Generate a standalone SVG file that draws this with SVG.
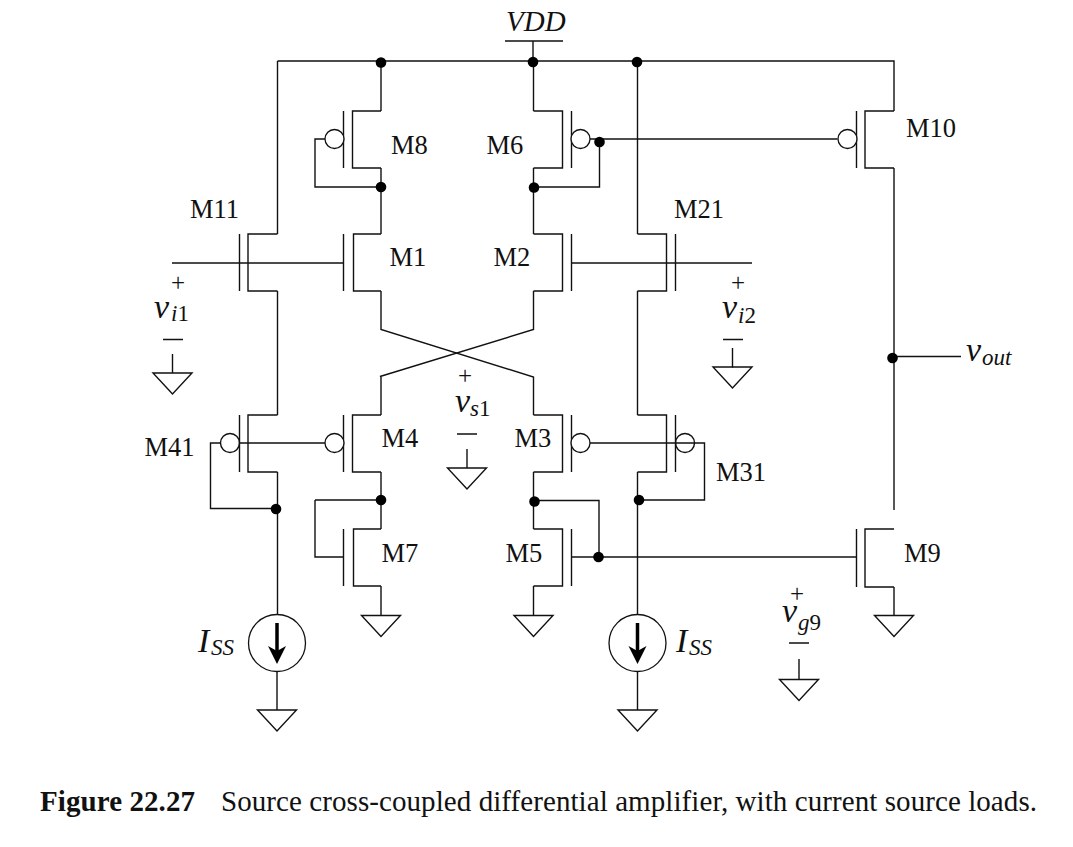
<svg xmlns="http://www.w3.org/2000/svg" width="1073" height="847" viewBox="0 0 1073 847">
<defs>
<style>
.w{fill:none;stroke:#111;stroke-width:1.4}
.d{fill:#000}
text{font-family:"Liberation Serif","Times New Roman",serif;fill:#111}
.l{font-size:26.5px}
.v{font-size:34px;font-style:italic}
.s{font-size:23px;font-style:italic}
.n{font-size:23px}
.p{font-size:25px}
.b{fill:#fff;stroke:#111;stroke-width:1.3}
</style>
<path id="gnd" class="w" d="M-19.5 0H19.5L0 21Z"/>
</defs>
<rect width="1073" height="847" fill="#fff"/>
<g id="connectors" class="w">
<path d="M505 41H563M533 41V61M277.5 61H894V111"/>
<path d="M277.5 61V234M381 61V111M533.5 61V111M637.5 61V234"/>
<path d="M381 168V234M533.5 168V234"/>
<path d="M325 139H315V187H381M599.5 142V187H534"/>
<path d="M590 139H837.5"/>
<path d="M172 263H343.5M571.5 263H752"/>
<path d="M381 291V329.5L533.5 377V415M533.5 291V329.5L380 376.5H381V415"/>
<path d="M277.5 291V415M637.5 291V415M894 168V510"/>
<path d="M239.5 443H325M590 443H704.5V500H637.5M220.500 443H210.500V508.500H276"/>
<path d="M277.500 472V614.500M277 671.500V710M637.500 472V614.500M637.500 671.500V710"/>
<path d="M381 472V529M533.500 472V529M315 500H381M534 500.500H599V557M315 500V557H343.500"/>
<path d="M571.500 557H856.500"/>
<path d="M381 586V615.500M533.500 586V615.500M894 587V615.500"/>
<path d="M893 356.500H961"/>
<path d="M172.500 354V373M732.500 348V367.500M467 449V468M799 659V679.500"/>
<path d="M163 339.500H183M723 339.500H743M457 434H477M789 643H809"/>
</g>
<g id="junctions">
<circle class="d" cx="381" cy="62.500" r="5.300"/><circle class="d" cx="533" cy="62" r="5.300"/><circle class="d" cx="637" cy="62" r="5.300"/>
<circle class="d" cx="381" cy="187" r="5.300"/><circle class="d" cx="534" cy="187.500" r="5.300"/><circle class="d" cx="599.500" cy="142" r="5.300"/>
<circle class="d" cx="892.500" cy="358" r="5.300"/><circle class="d" cx="276" cy="509" r="5.300"/><circle class="d" cx="381" cy="500" r="5.300"/>
<circle class="d" cx="534.500" cy="501.500" r="5.300"/><circle class="d" cx="639" cy="500" r="5.300"/><circle class="d" cx="598.500" cy="557" r="5.300"/>
</g>
<g id="M8"><path class="w" d="M381 111H352.500V168H381M343.500 111V168"/><circle class="b" cx="334.500" cy="139" r="9.500"/><text class="l" x="391" y="153.500">M8</text></g>
<g id="M6"><path class="w" d="M533.500 111H562.500V168H533.500M571.500 111V168"/><circle class="b" cx="580.500" cy="139" r="9.500"/><text class="l" x="486.500" y="153.500">M6</text></g>
<g id="M10"><path class="w" d="M894 111H865V168H894M856.500 111V168"/><circle class="b" cx="847.500" cy="139" r="9.500"/><text class="l" x="906" y="137">M10</text></g>
<g id="M1"><path class="w" d="M381 234H353.500V291H381M343.500 234V291"/><text class="l" x="389.500" y="266">M1</text></g>
<g id="M2"><path class="w" d="M533.500 234H562.500V291H533.500M571.500 234V291"/><text class="l" x="493.500" y="266">M2</text></g>
<g id="M11"><path class="w" d="M277.500 234H248V291H277.500M239.500 234V291"/><text class="l" x="190" y="218">M11</text></g>
<g id="M21"><path class="w" d="M637.500 234H666.500V291H637.500M675.500 234V291"/><text class="l" x="674" y="218">M21</text></g>
<g id="M41"><path class="w" d="M277.500 415H248V472H277.500M239.500 415V472"/><circle cx="230" cy="443" r="9.500" class="w"/><text class="l" x="144.500" y="456">M41</text></g>
<g id="M4"><path class="w" d="M381 415H352.500V472H381M343.500 415V472"/><circle class="b" cx="334.500" cy="443" r="9.500"/><text class="l" x="381.500" y="447">M4</text></g>
<g id="M3"><path class="w" d="M533.500 415H562.500V472H533.500M571.500 415V472"/><circle class="b" cx="580.500" cy="443" r="9.500"/><text class="l" x="514.500" y="447">M3</text></g>
<g id="M31"><path class="w" d="M637.500 415H666.500V472H637.500M675.500 415V472"/><circle class="w" cx="685" cy="443" r="9.500"/><text class="l" x="716" y="481">M31</text></g>
<g id="M7"><path class="w" d="M381 529H353.500V586H381M343.500 529V586"/><text class="l" x="381.500" y="562">M7</text></g>
<g id="M5"><path class="w" d="M533.500 529H562.500V586H533.500M571.500 529V586"/><text class="l" x="505.500" y="562">M5</text></g>
<g id="M9"><path class="w" d="M894 529H865V587H894M856.500 529V587"/><text class="l" x="904" y="562">M9</text></g>
<g id="ISS1"><circle class="b" cx="277" cy="643" r="28.500"/><path d="M277 623V657" stroke="#000" stroke-width="3.500" fill="none"/><path d="M268 646L277 664L286 646L277 651Z" fill="#000"/><text class="v" x="198" y="652">I</text><text class="s" x="211" y="655">SS</text></g>
<g id="ISS2"><circle class="b" cx="637.500" cy="643" r="28.500"/><path d="M637.500 623V657" stroke="#000" stroke-width="3.500" fill="none"/><path d="M628.500 646L637.500 664L646.500 646L637.500 651Z" fill="#000"/><text class="v" x="676" y="652">I</text><text class="s" x="689" y="655">SS</text></g>
<g id="grounds">
<use href="#gnd" x="172.500" y="373"/><use href="#gnd" x="732.500" y="367"/><use href="#gnd" x="467" y="468"/><use href="#gnd" x="799" y="679.500"/>
<use href="#gnd" x="381" y="615.500"/><use href="#gnd" x="533.500" y="615.500"/><use href="#gnd" x="894" y="615.500"/><use href="#gnd" x="277" y="710"/><use href="#gnd" x="637.500" y="710"/>
</g>
<g id="labels">
<text x="506" y="31" font-size="29" font-style="italic">VDD</text>
<text class="p" x="171" y="291">+</text><text class="v" x="154" y="318">v</text><text class="n" x="171" y="321"><tspan font-style="italic">i</tspan>1</text>
<text class="p" x="731" y="291">+</text><text class="v" x="722" y="318">v</text><text class="n" x="738" y="323"><tspan font-style="italic">i</tspan>2</text>
<text class="p" x="458" y="384">+</text><text class="v" x="455" y="412">v</text><text class="n" x="470" y="416"><tspan font-style="italic">s</tspan>1</text>
<text class="p" x="790" y="602">+</text><text class="v" x="782" y="622">v</text><text class="n" x="798" y="630"><tspan font-style="italic">g</tspan>9</text>
<text class="v" x="966" y="361">v</text><text class="s" x="982" y="365">out</text>
</g>
<g id="caption">
<text x="40" y="811" font-size="29" font-weight="bold" textLength="155">Figure 22.27</text>
<text x="221" y="811" font-size="29" textLength="816">Source cross-coupled differential amplifier, with current source loads.</text>
</g>
</svg>
